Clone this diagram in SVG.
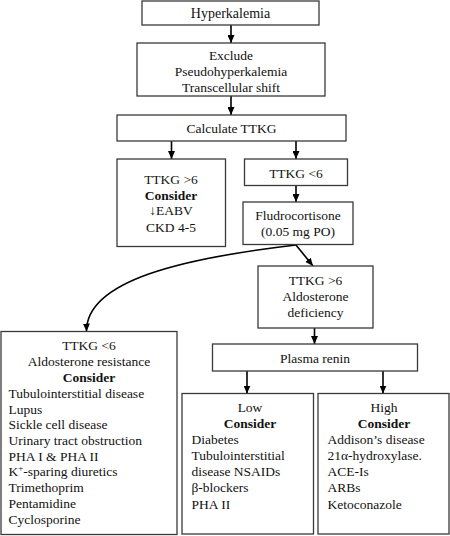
<svg xmlns="http://www.w3.org/2000/svg" width="450" height="536" viewBox="0 0 450 536">
<style>
.box{fill:#fff;stroke:#3a3a3a;stroke-width:1.3}
text{font-family:"Liberation Serif","Times New Roman",serif;font-size:13.5px;fill:#111}
.c{text-anchor:middle}
.b{font-weight:bold}
.ln{fill:none;stroke:#000;stroke-width:1.6}
</style>
<defs>
<marker id="ah" markerUnits="userSpaceOnUse" markerWidth="8" markerHeight="7" refX="8" refY="3.5" orient="auto">
<path d="M0,0 L8,3.5 L0,7 z" fill="#000"/>
</marker>
</defs>
<rect width="450" height="536" fill="#fff"/>
<g id="connectors">
<line class="ln" x1="231" y1="25" x2="231" y2="43" marker-end="url(#ah)"/>
<line class="ln" x1="231" y1="96" x2="231" y2="115" marker-end="url(#ah)"/>
<line class="ln" x1="171.5" y1="141" x2="171.5" y2="159" marker-end="url(#ah)"/>
<line class="ln" x1="296" y1="141" x2="296" y2="159" marker-end="url(#ah)"/>
<line class="ln" x1="296" y1="185.5" x2="296" y2="202" marker-end="url(#ah)"/>
<line class="ln" x1="296" y1="245" x2="313" y2="266" marker-end="url(#ah)"/>
<path class="ln" d="M296,245 C185,258 86,280 86.5,331.5" marker-end="url(#ah)"/>
<line class="ln" x1="314.5" y1="328" x2="314.5" y2="344" marker-end="url(#ah)"/>
<line class="ln" x1="247" y1="371" x2="247" y2="393.5" marker-end="url(#ah)"/>
<line class="ln" x1="383" y1="371" x2="383" y2="393.5" marker-end="url(#ah)"/>
</g>
<g id="hyperkalemia">
<rect class="box" x="142" y="1" width="177" height="24"/>
<text class="c" x="230.5" y="18" style="font-size:14px">Hyperkalemia</text>
</g>
<g id="exclude">
<rect class="box" x="137" y="43" width="188" height="53"/>
<text class="c" x="231" y="59.5">Exclude</text>
<text class="c" x="231" y="75.5">Pseudohyperkalemia</text>
<text class="c" x="231" y="91.5">Transcellular shift</text>
</g>
<g id="calculate">
<rect class="box" x="117" y="115" width="229" height="26"/>
<text class="c" x="231.5" y="132.5">Calculate TTKG</text>
</g>
<g id="ttkg-high">
<rect class="box" x="117" y="159" width="108.5" height="87.5"/>
<text class="c" x="171" y="184">TTKG &gt;6</text>
<text class="c b" x="171" y="199.5">Consider</text>
<text class="c" x="171" y="215">↓EABV</text>
<text class="c" x="171" y="231.5">CKD 4-5</text>
</g>
<g id="ttkg-low">
<rect class="box" x="244.5" y="159" width="103" height="26.5"/>
<text class="c" x="296" y="177.5">TTKG &lt;6</text>
</g>
<g id="fludrocortisone">
<rect class="box" x="243" y="202" width="110" height="42.5"/>
<text class="c" x="298" y="220">Fludrocortisone</text>
<text class="c" x="298" y="235.5">(0.05 mg PO)</text>
</g>
<g id="aldo-deficiency">
<rect class="box" x="258" y="266" width="115" height="62"/>
<text class="c" x="315.5" y="285">TTKG &gt;6</text>
<text class="c" x="315.5" y="301">Aldosterone</text>
<text class="c" x="315.5" y="317">deficiency</text>
</g>
<g id="plasma-renin">
<rect class="box" x="212.5" y="344" width="205" height="27"/>
<text class="c" x="315" y="362.5">Plasma renin</text>
</g>
<g id="aldo-resistance">
<rect class="box" x="1" y="331.5" width="176" height="203"/>
<text class="c" x="89" y="350">TTKG &lt;6</text>
<text class="c" x="89" y="366">Aldosterone resistance</text>
<text class="c b" x="89" y="382">Consider</text>
<text x="8.5" y="397.5">Tubulointerstitial disease</text>
<text x="8.5" y="413.5">Lupus</text>
<text x="8.5" y="429">Sickle cell disease</text>
<text x="8.5" y="445">Urinary tract obstruction</text>
<text x="8.5" y="460.5">PHA I &amp; PHA II</text>
<text x="8.5" y="476">K<tspan baseline-shift="super" style="font-size:9px">+</tspan>-sparing diuretics</text>
<text x="8.5" y="491.5">Trimethoprim</text>
<text x="8.5" y="507.5">Pentamidine</text>
<text x="8.5" y="523.5">Cyclosporine</text>
</g>
<g id="renin-low">
<rect class="box" x="182" y="393.5" width="131.5" height="140.5"/>
<text class="c" x="250" y="412">Low</text>
<text class="c b" x="250" y="428">Consider</text>
<text x="191.5" y="444">Diabetes</text>
<text x="191.5" y="459.5">Tubulointerstitial</text>
<text x="191.5" y="475.5">disease NSAIDs</text>
<text x="191.5" y="492">β-blockers</text>
<text x="191.5" y="508.5">PHA II</text>
</g>
<g id="renin-high">
<rect class="box" x="318" y="393.5" width="131" height="140.5"/>
<text class="c" x="384" y="412">High</text>
<text class="c b" x="384" y="428">Consider</text>
<text x="327.5" y="444">Addison’s disease</text>
<text x="327.5" y="459.5">21α-hydroxylase.</text>
<text x="327.5" y="475.5">ACE-Is</text>
<text x="327.5" y="492">ARBs</text>
<text x="327.5" y="508.5">Ketoconazole</text>
</g>
</svg>
